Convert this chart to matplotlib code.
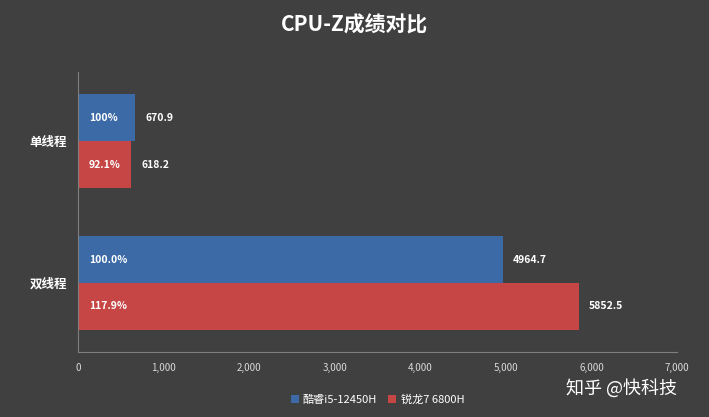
import matplotlib
matplotlib.use("Agg")
import matplotlib.pyplot as plt
from matplotlib.ticker import FuncFormatter

plt.rcParams['font.family'] = ['Noto Sans CJK SC', 'DejaVu Sans']

categories = ["单线程", "双线程"]
series_names = ["酷睿i5-12450H", "锐龙7 6800H"]
blue_vals = [670.9, 4964.7]
red_vals = [618.2, 5852.5]
blue_pct = ["100%", "100.0%"]
red_pct = ["92.1%", "117.9%"]

bg = "#404040"
blue = "#3c6aa6"
red = "#c64545"

fig = plt.figure(figsize=(7.09, 4.17), dpi=100, facecolor=bg)
ax = fig.add_axes([0.110, 0.156, 0.845, 0.671], facecolor=bg)

ypos = [1, 0]
h = 0.33
for i, y in enumerate(ypos):
    ax.barh(y + h/2, blue_vals[i], height=h, color=blue, label=series_names[0] if i == 0 else None)
    ax.barh(y - h/2, red_vals[i], height=h, color=red, label=series_names[1] if i == 0 else None)
    ax.text(130, y + h/2, blue_pct[i], color="white", fontsize=7.5, fontweight="bold", va="center")
    ax.text(130, y - h/2, red_pct[i], color="white", fontsize=7.5, fontweight="bold", va="center")
    ax.text(blue_vals[i] + 120, y + h/2, f"{blue_vals[i]:.1f}", color="white", fontsize=7.5, fontweight="bold", va="center")
    ax.text(red_vals[i] + 120, y - h/2, f"{red_vals[i]:.1f}", color="white", fontsize=7.5, fontweight="bold", va="center")

ax.set_xlim(0, 7000)
ax.set_ylim(-0.486, 1.486)
ax.set_xticks(range(0, 7001, 1000))
ax.xaxis.set_major_formatter(FuncFormatter(lambda v, p: f"{int(v):,}"))
ax.set_yticks(ypos)
ax.set_yticklabels(categories, fontsize=9, fontweight="bold", color="white")
ax.tick_params(axis='x', colors="#d9d9d9", labelsize=7, length=0, pad=8)
ax.tick_params(axis='y', length=0, pad=8)
for s in ["top", "right"]:
    ax.spines[s].set_visible(False)
for s in ["left", "bottom"]:
    ax.spines[s].set_color("#7f7f7f")

fig.text(0.5, 0.94, "CPU-Z成绩对比", color="white", fontsize=15, fontweight="bold", ha="center", va="center")
ax.legend(loc="upper center", bbox_to_anchor=(0.5, -0.115), ncol=2, frameon=False,
          fontsize=8, labelcolor="white", handlelength=0.7, handleheight=0.7, columnspacing=1.0, handletextpad=0.4)
fig.text(0.955, 0.07, "知乎 @快科技", color="white", fontsize=13, ha="right", va="center")

fig.savefig("out.png", dpi=100, facecolor=bg)
